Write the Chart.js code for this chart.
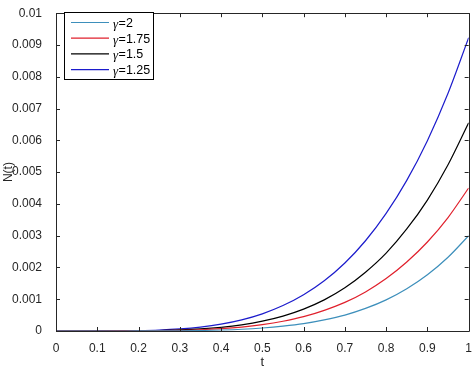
<!DOCTYPE html>
<html>
<head>
<meta charset="utf-8">
<script src="https://cdn.jsdelivr.net/npm/chart.js@4"></script>
<style>
  html, body { margin: 0; padding: 0; background: #fff; }
  #wrap { width: 474px; height: 370px; }
</style>
</head>
<body>
<div id="wrap"><canvas id="nChart" width="474" height="370"></canvas></div>
<script>
const tValues = [0, 0.05, 0.1, 0.15, 0.2, 0.25, 0.3, 0.35, 0.4, 0.45, 0.5,
                 0.55, 0.6, 0.65, 0.7, 0.75, 0.8, 0.85, 0.9, 0.95, 1];
const gamma2   = [0, 0, 0, 0.0000002, 0.000001, 0.0000029, 0.0000073, 0.000016, 0.000031, 0.000055, 0.000094,
                  0.000151, 0.00023, 0.000348, 0.0005, 0.00071, 0.00098, 0.00133, 0.00177, 0.00232, 0.003];
const gamma175 = [0, 0, 0.0000001, 0.0000009, 0.0000032, 0.0000088, 0.00002, 0.00004, 0.000073, 0.000124, 0.0002,
                  0.000306, 0.00045, 0.00065, 0.0009, 0.00123, 0.00165, 0.00217, 0.0028, 0.00357, 0.0045];
const gamma15  = [0, 0, 0.0000003, 0.0000016, 0.0000055, 0.0000146, 0.000033, 0.000065, 0.000117, 0.000195, 0.00031,
                  0.00047, 0.00069, 0.00098, 0.00136, 0.00185, 0.00245, 0.00321, 0.00412, 0.00523, 0.00655];
const gamma125 = [0, 0, 0.0000007, 0.0000039, 0.0000127, 0.000031, 0.000066, 0.000124, 0.000215, 0.00035, 0.00054,
                  0.0008, 0.00114, 0.00158, 0.00214, 0.00284, 0.0037, 0.00474, 0.00599, 0.00748, 0.00923];
const seriesLabels = ['γ=2', 'γ=1.75', 'γ=1.5', 'γ=1.25'];
const xTicks = [0, 0.1, 0.2, 0.3, 0.4, 0.5, 0.6, 0.7, 0.8, 0.9, 1];
const xTickLabels = ['0', '0.1', '0.2', '0.3', '0.4', '0.5', '0.6', '0.7', '0.8', '0.9', '1'];
const yTicks = [0, 0.001, 0.002, 0.003, 0.004, 0.005, 0.006, 0.007, 0.008, 0.009, 0.01];
const yTickLabels = ['0', '0.001', '0.002', '0.003', '0.004', '0.005', '0.006', '0.007', '0.008', '0.009', '0.01'];

const colors = ['#3d8fbb', '#e0202c', '#000000', '#1c1ccc'];
const FONT = '"Liberation Sans", Arial, sans-serif';

function pts(arr) {
  return arr.map((v, i) => ({ x: tValues[i], y: v }));
}

// box, inward ticks and the legend, drawn like a MATLAB figure
const matlabFrame = {
  id: 'matlabFrame',
  afterDraw(chart) {
    const ctx = chart.ctx;
    const a = chart.chartArea;
    const xs = chart.scales.x, ys = chart.scales.y;
    ctx.save();
    ctx.strokeStyle = '#262626';
    ctx.lineWidth = 1;
    ctx.beginPath();
    ctx.rect(Math.round(a.left) + 0.5, Math.round(a.top) + 0.5,
             Math.round(a.right - a.left), Math.round(a.bottom - a.top));
    ctx.stroke();
    const len = 4;
    ctx.beginPath();
    xTicks.forEach(v => {
      const px = Math.round(xs.getPixelForValue(v)) + 0.5;
      ctx.moveTo(px, a.bottom); ctx.lineTo(px, a.bottom - len);
      ctx.moveTo(px, a.top); ctx.lineTo(px, a.top + len);
    });
    yTicks.forEach(v => {
      const py = Math.round(ys.getPixelForValue(v)) + 0.5;
      ctx.moveTo(a.left, py); ctx.lineTo(a.left + len, py);
      ctx.moveTo(a.right, py); ctx.lineTo(a.right - len, py);
    });
    ctx.stroke();

    // legend
    const lx = 64, ly = 12, lw = 89, lh = 67;
    ctx.fillStyle = '#fff';
    ctx.fillRect(lx, ly, lw, lh);
    ctx.strokeStyle = '#000';
    ctx.strokeRect(lx + 0.5, ly + 0.5, lw, lh);
    ctx.textBaseline = 'middle';
    chart.data.datasets.forEach((ds, i) => {
      const y = ly + 10.5 + i * 15.7;
      ctx.strokeStyle = ds.borderColor;
      ctx.lineWidth = 1.2;
      ctx.beginPath();
      ctx.moveTo(lx + 7, y); ctx.lineTo(lx + 45, y);
      ctx.stroke();
      ctx.fillStyle = '#000';
      const sym = ds.label.charAt(0);
      ctx.font = 'italic 13px "Liberation Serif", serif';
      ctx.fillText(sym, lx + 49, y + 2);
      const w = ctx.measureText(sym).width;
      ctx.font = '12.5px ' + FONT;
      ctx.fillText(ds.label.slice(1), lx + 49 + w + 0.5, y + 1);
    });
    ctx.restore();
  }
};

const ctx = document.getElementById('nChart').getContext('2d');
new Chart(ctx, {
  type: 'line',
  data: {
    datasets: [gamma2, gamma175, gamma15, gamma125].map((d, i) => ({
      label: seriesLabels[i],
      data: pts(d),
      borderColor: colors[i],
      borderWidth: 1.2,
      pointRadius: 0,
      fill: false,
      cubicInterpolationMode: 'monotone'
    }))
  },
  options: {
    responsive: false,
    animation: false,
    layout: { padding: { top: 6, right: 5, left: 0, bottom: 0 } },
    plugins: { legend: { display: false }, tooltip: { enabled: false } },
    scales: {
      x: {
        type: 'linear', min: 0, max: 1,
        grid: { display: false },
        border: { display: false },
        afterBuildTicks: s => { s.ticks = xTicks.map(v => ({ value: v })); },
        afterFit: s => { s.height = 39; },
        ticks: {
          padding: 2,
          color: '#262626',
          font: { family: FONT, size: 12 },
          maxRotation: 0,
          callback: (v, i) => xTickLabels[i]
        },
        title: { display: true, text: 't', color: '#262626', padding: 0,
                 font: { family: FONT, size: 13 } }
      },
      y: {
        type: 'linear', min: 0, max: 0.01,
        grid: { display: false },
        border: { display: false },
        afterBuildTicks: s => { s.ticks = yTicks.map(v => ({ value: v })); },
        afterFit: s => { s.width = 56; },
        ticks: {
          padding: 6,
          color: '#262626',
          font: { family: FONT, size: 12 },
          callback: (v, i) => yTickLabels[i]
        },
        title: { display: true, text: 'N(t)', color: '#262626', padding: { top: 1, bottom: 0 },
                 font: { family: FONT, size: 12 } }
      }
    }
  },
  plugins: [matlabFrame]
});
</script>
</body>
</html>
